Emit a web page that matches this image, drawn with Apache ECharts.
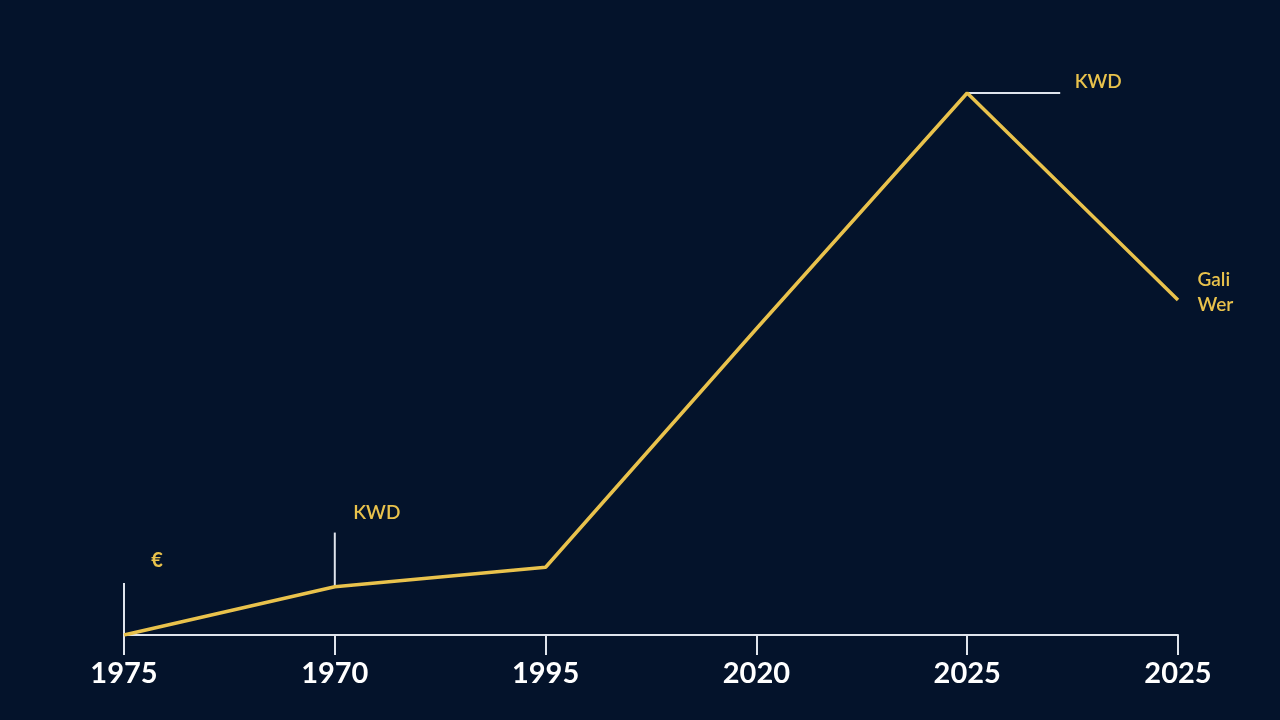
<!DOCTYPE html>
<html lang="en">
<head>
    <meta charset="utf-8"/>
    <title>Line</title>
    <style>
        html, body { margin: 0; padding: 0; background: #04132b; }
        #main { width: 1280px; height: 720px; }
    </style>
</head>
<body>
<div id="main"></div>
<script src="https://cdn.jsdelivr.net/npm/echarts@6/dist/echarts.min.js"></script>
<script type="text/javascript">
    // data
    var years = ['1975', '1970', '1995', '2020', '2025', '2025'];
    var values = [0, 8.9, 12.5, 56.5, 100, 61.8];
    var notes = ['€', 'KWD', '', '', 'KWD', 'Gali\nWer'];

    var gold = '#e9c24c';
    var chart = echarts.init(document.getElementById('main'));

    // label offsets per point (style only)
    var noteStyle = [
        {offset: [33, -56], align: 'center'},
        {offset: [42, -56], align: 'center'},
        {offset: [0, 0], align: 'center'},
        {offset: [0, 0], align: 'center'},
        {offset: [131, 7], align: 'center'},
        {offset: [14, -8], align: 'left'}
    ];

    // annotations as mark points sitting on the data
    var marks = [];
    values.forEach(function (v, i) {
        if (notes[i] === '') return;
        marks.push({
            coord: [i, v],
            symbol: 'circle',
            symbolSize: 1,
            itemStyle: {color: 'rgba(0,0,0,0)'},
            label: {
                show: true,
                formatter: notes[i],
                position: i === 5 ? 'right' : 'top',
                offset: noteStyle[i].offset,
                align: noteStyle[i].align,
                color: gold,
                fontSize: i === 0 ? 20 : 19,
                fontWeight: i === 0 ? 'bold' : 600,
                lineHeight: 25,
                fontFamily: 'Lato, "Noto Sans", sans-serif'
            }
        });
    });

    chart.setOption({
        backgroundColor: '#04132b',
        animation: false,
        grid: {left: 124, right: 102, top: 93, bottom: 85},
        xAxis: {
            type: 'category',
            data: years,
            boundaryGap: false,
            axisLine: {lineStyle: {color: '#dfe4ec', width: 2}},
            axisTick: {show: true, alignWithLabel: true, length: 20, lineStyle: {color: '#dfe4ec', width: 2}},
            axisLabel: {
                color: '#ffffff', fontSize: 29, margin: 24,
                fontFamily: 'Lato, "Noto Sans", sans-serif', fontWeight: 'bold'
            }
        },
        yAxis: {
            type: 'value', min: 0, max: 100,
            show: false, splitLine: {show: false}
        },
        series: [{
            type: 'line',
            data: values,
            symbol: 'none',
            lineStyle: {color: gold, width: 3.5},
            markPoint: {data: marks, silent: true}
        }]
    });

    // annotation leader lines, placed through the chart's own scales
    function px(i, v) {
        return chart.convertToPixel({gridIndex: 0}, [i, v]);
    }
    var p0 = px(0, 0), p0top = px(0, 9.6);
    var p1 = px(1, values[1]), p1top = px(1, 18.9);
    var p4 = px(4, values[4]);
    var lineStyle = {stroke: '#dfe4ec', lineWidth: 2};
    chart.setOption({
        graphic: [
            {type: 'line', shape: {x1: p0[0], y1: p0[1], x2: p0top[0], y2: p0top[1]}, style: lineStyle, z: 1},
            {type: 'line', shape: {x1: p1[0], y1: p1[1], x2: p1top[0], y2: p1top[1]}, style: lineStyle, z: 1},
            {type: 'line', shape: {x1: p4[0], y1: p4[1], x2: p4[0] + 93, y2: p4[1]}, style: lineStyle, z: 1}
        ]
    });
</script>
</body>
</html>
